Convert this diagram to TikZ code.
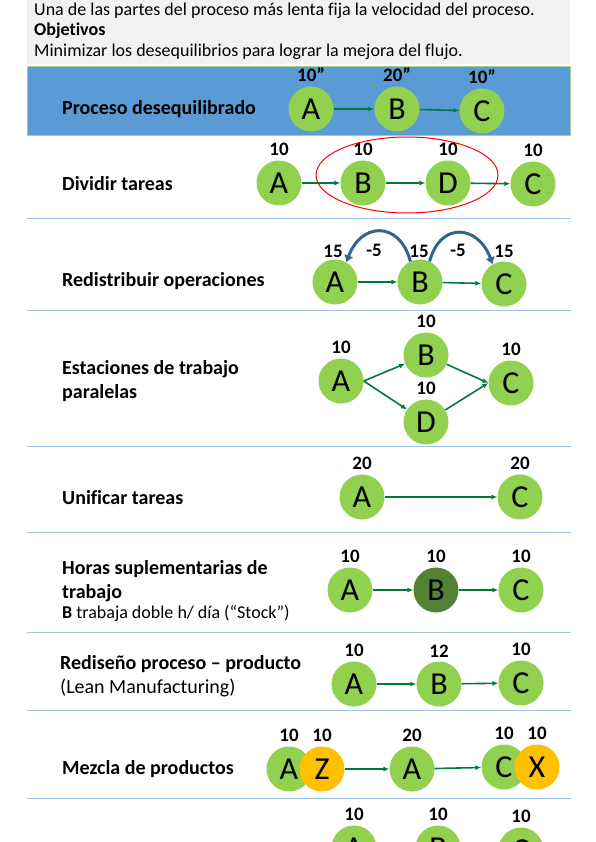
\documentclass[tikz,border=0pt]{standalone}
\usepackage{fontspec}
\setmainfont{Carlito}[Ligatures=NoCommon]
\usepackage{tikz}
\usetikzlibrary{arrows.meta,positioning,calc,shapes.geometric}
\definecolor{StGreen}{RGB}{146,208,80}
\definecolor{StDark}{RGB}{84,130,53}
\definecolor{StOrange}{RGB}{255,192,0}
\definecolor{BandBlue}{RGB}{91,155,213}
\definecolor{BandEdge}{RGB}{169,209,142}
\definecolor{SepBlue}{RGB}{157,195,230}
\definecolor{TopGray}{RGB}{242,242,242}
\definecolor{FlowGreen}{RGB}{0,122,61}
\definecolor{MoveBlue}{RGB}{47,102,140}

\begin{document}
\begin{tikzpicture}[x=1pt,y=-1pt,>={Latex[length=6pt,width=5pt]},node distance=2pt]
\tikzset{st/.style={circle,fill=StGreen,minimum size=45pt,inner sep=0pt,font=\fontsize{32}{32}\selectfont},
stdark/.style={st,fill=StDark},
storange/.style={st,fill=StOrange},
tm/.style={inner sep=2pt,font=\bfseries\fontsize{19}{19}\selectfont},
rowtitle/.style={anchor=west,align=left,inner sep=0pt,font=\bfseries\fontsize{20}{24}\selectfont},
toptext/.style={anchor=west,inner sep=0pt,font=\fontsize{18}{18}\selectfont},
flow/.style={->,draw=FlowGreen,line width=1.6pt},
move/.style={-{Latex[length=7pt,width=10pt]},draw=MoveBlue,line width=3pt},
sep/.style={draw=SepBlue,line width=1pt}}
\useasboundingbox (0,0) rectangle (595,842);
\fill[white] (0,0) rectangle (595,842);

% header
\fill[TopGray] (27,0) rectangle (570,64);
\node[toptext] (intro) at (34,11) {Una de las partes del proceso más lenta fija la velocidad del proceso.};
\node[toptext,font=\bfseries\fontsize{18}{18}\selectfont] (obj) at (34,31) {Objetivos};
\node[toptext] (goal) at (34,52) {Minimizar los desequilibrios para lograr la mejora del flujo.};
\filldraw[fill=BandBlue,draw=BandEdge,line width=0.8pt] (27,66) rectangle (570,135);

% separators
\foreach \y in {219,310,446,532,632,710,798}
  \draw[sep] (27,\y) -- (571,\y);

% 1 - proceso desequilibrado
\node[rowtitle] (title1) at (62,109) {Proceso desequilibrado};
\node[st] (r1a) at (311,109) {A};
\node[st] (r1b) at (397,109) {B};
\node[st] (r1c) at (482,111) {C};
\node[tm,above=of r1a] (t1a) {10”};
\node[tm,above=of r1b] (t1b) {20”};
\node[tm,above=of r1c] (t1c) {10”};
\draw[flow] (r1a) -- (r1b);
\draw[flow] (r1b) -- (r1c);

% 2 - dividir tareas
\node[rowtitle] (title2) at (62,184) {Dividir tareas};
\node[st] (r2a) at (279,183) {A};
\node[st] (r2b) at (363,183) {B};
\node[st] (r2d) at (448,183) {D};
\node[st] (r2c) at (533,184) {C};
\foreach \n in {a,b,d,c}
  \node[tm,above=of r2\n] (t2\n) {10};
\draw[flow] (r2a) -- (r2b);
\draw[flow] (r2b) -- (r2d);
\draw[flow] (r2d) -- (r2c);
\node[draw=red,line width=1pt,ellipse,minimum width=182pt,minimum height=76pt] (split) at (407,175) {};

% 3 - redistribuir operaciones
\node[rowtitle] (title3) at (62,281) {Redistribuir operaciones};
\node[st] (r3a) at (335,282) {A};
\node[st] (r3b) at (420,282) {B};
\node[st] (r3c) at (504,284) {C};
\node[tm] (t3a) at (333,251) {15};
\node[tm] (t3b) at (419,251) {15};
\node[tm] (t3c) at (504,251) {15};
\node[tm] (m3a) at (374,250) {-5};
\node[tm] (m3b) at (458,250) {-5};
\draw[flow] (r3a) -- (r3b);
\draw[flow] (r3b) -- (r3c);
\draw[move] (r3b.115) to[out=105,in=70,looseness=1.7] (r3a.60);
\draw[move] (r3b.65) to[out=75,in=110,looseness=1.7] (r3c.120);

% 4 - estaciones paralelas
\node[rowtitle] (title4) at (62,381) {Estaciones de trabajo\\paralelas};
\node[st] (r4a) at (341,381) {A};
\node[st] (r4b) at (426,355) {B};
\node[st] (r4d) at (426,422) {D};
\node[st] (r4c) at (511,383) {C};
\foreach \n in {a,b,d,c}
  \node[tm,above=of r4\n] (t4\n) {10};
\draw[flow] (r4a.east) -- (r4b);
\draw[flow] (r4a.east) -- (r4d);
\draw[flow] (r4b) -- (r4c.west);
\draw[flow] (r4d) -- (r4c.west);

% 5 - unificar tareas
\node[rowtitle] (title5) at (62,498) {Unificar tareas};
\node[st] (r5a) at (362,497) {A};
\node[st] (r5c) at (520,497) {C};
\node[tm,above=of r5a] (t5a) {20};
\node[tm,above=of r5c] (t5c) {20};
\draw[flow] (r5a) -- (r5c);

% 6 - horas suplementarias
\node[rowtitle] (title6) at (62,581) {Horas suplementarias de\\trabajo};
\node[toptext] (note6) at (62,613) {\textbf{B} trabaja doble h/ día (“Stock”)};
\node[st] (r6a) at (350,590) {A};
\node[stdark] (r6b) at (436,590) {B};
\node[st] (r6c) at (521,590) {C};
\foreach \n in {a,b,c}
  \node[tm,above=of r6\n] (t6\n) {10};
\draw[flow] (r6a) -- (r6b);
\draw[flow] (r6b) -- (r6c);

% 7 - rediseno
\node[rowtitle] (title7) at (60,676) {Rediseño proceso – producto\\\mdseries(Lean Manufacturing)};
\node[st] (r7a) at (354,684) {A};
\node[st] (r7b) at (439,684) {B};
\node[st] (r7c) at (521,683) {C};
\node[tm,above=of r7a] (t7a) {10};
\node[tm,above=of r7b] (t7b) {12};
\node[tm,above=of r7c] (t7c) {10};
\draw[flow] (r7a) -- (r7b);
\draw[flow] (r7b) -- (r7c);

% 8 - mezcla de productos
\node[rowtitle] (title8) at (62,769) {Mezcla de productos};
\node[st] (r8a) at (289,769) {A};
\node[storange] (r8z) at (322,769) {Z};
\node[st] (r8m) at (412,769) {A};
\node[st] (r8c) at (504,767) {C};
\node[storange] (r8x) at (537,767) {X};
\node[tm,above=of r8a] (t8a) {10};
\node[tm,above=of r8z] (t8z) {10};
\node[tm,above=of r8m] (t8m) {20};
\node[tm,above=of r8c] (t8c) {10};
\node[tm,above=of r8x] (t8x) {10};
\draw[flow] (r8z) -- (r8m);
\draw[flow] (r8m) -- (r8c);

% 9 - cut off at the page edge
\node[st] (r9a) at (354,848) {A};
\node[st] (r9b) at (438,848) {B};
\node[st] (r9c) at (521,850) {C};
\foreach \n in {a,b,c}
  \node[tm,above=of r9\n] (t9\n) {10};
\draw[flow] (r9a) -- (r9b);
\draw[flow] (r9b) -- (r9c);
\end{tikzpicture}
\end{document}
